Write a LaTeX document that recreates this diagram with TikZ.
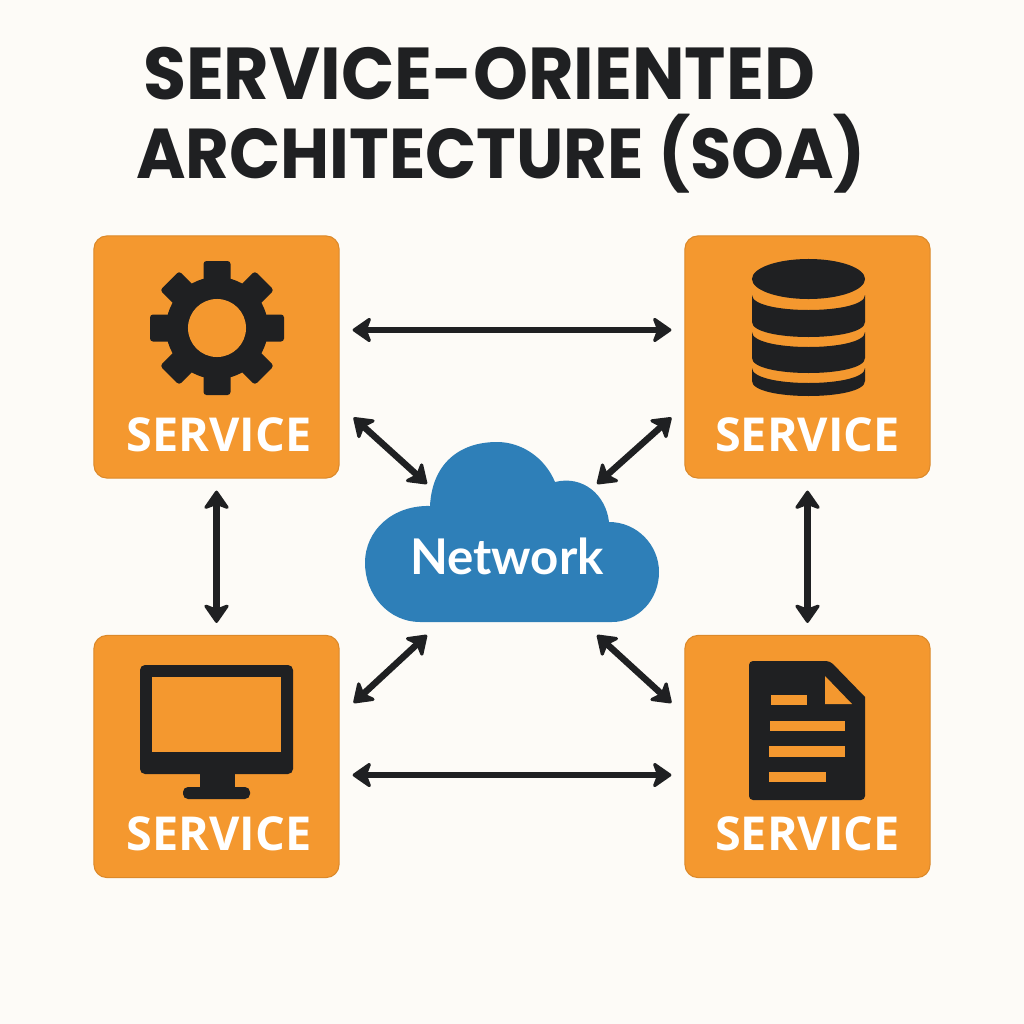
\documentclass[tikz,border=0pt]{standalone}
\usepackage{fontspec}
\usetikzlibrary{arrows.meta}
\setmainfont{Open Sans}
\newfontfamily\titlefont{Poppins}
\newfontfamily\netfont{Lato}
\definecolor{paper}{HTML}{FDFBF7}
\definecolor{boxorange}{HTML}{F4982F}
\definecolor{cloudblue}{HTML}{2E7FB8}
\definecolor{icondark}{HTML}{1F2022}
\tikzset{
  svcbox/.style={draw=boxorange!90!black,fill=boxorange,line width=0.3pt,rounded corners=0.13cm,
    minimum width=2.45cm,minimum height=2.42cm,inner sep=0pt},
  svctext/.style={text=white,font=\fontsize{13.3}{16}\selectfont\bfseries,inner sep=0pt},
  nettext/.style={text=white,font=\netfont\fontsize{14}{16}\selectfont\bfseries,inner sep=0pt},
  titletext/.style={text=icondark,font=\titlefont\selectfont\bfseries,inner sep=0pt},
  linktip/.tip={Stealth[length=0.21cm,width=0.29cm,inset=0.055cm,line width=0.9pt,round]},
  link/.style={draw=icondark,line width=0.065cm,{linktip}-{linktip}},
  icon/.style={fill=icondark},
  iconcut/.style={fill=boxorange}
}
\begin{document}
\begin{tikzpicture}[x=0.01cm,y=-0.01cm]
    \fill[paper] (0,0) rectangle (1024,1024);
    \useasboundingbox (0,0) rectangle (1024,1024);

    \node[titletext] (titletop) at (479,74) {\fontsize{19.9}{24}\selectfont\scalebox{1}[1.05]{SERVICE-ORIENTED}};
    \node[titletext] (titlebottom) at (501,154) {\fontsize{19.1}{24}\selectfont\scalebox{1}[1.05]{ARCHITECTURE (SOA)}};

    % service boxes
    \foreach \name/\x/\y/\lx in {gear/216.5/357/219,db/807.5/357/807.5,screen/216.5/756.5/219,doc/807.5/756.5/807.5}{
        \node[svcbox] (\name) at (\x,\y) {};
        \node[svctext] (\name label) at (\lx,\y+77.5) {SERVICE};
    }

    % gear
    \foreach \a in {0,45,...,315}{
        \fill[icon,rounded corners=0.03cm,rotate around={\a:(217,328)}] (203.5,261) rectangle (230.5,300);
    }
    \fill[icon] (217,328) circle (0.51cm);
    \fill[iconcut] (217,328) circle (0.29cm);

    % database
    \fill[icon] (808.5,279) ellipse (0.565cm and 0.2cm);
    \foreach \yt/\yb in {295/322,332/358,368/381}{
        \fill[icon] (752,\yt) .. controls (752,\yt+20) and (865,\yt+20) .. (865,\yt)
            -- (865,\yb) .. controls (865,\yb+20) and (752,\yb+20) .. (752,\yb) -- cycle;
    }

    % monitor
    \fill[icon,rounded corners=0.05cm] (140,665) rectangle (293,774);
    \fill[iconcut] (152,677) rectangle (281,752);
    \fill[icon] (200,770) rectangle (235,790);
    \fill[icon,rounded corners=0.05cm] (183,787) rectangle (250,799);

    % document
    \fill[icon,rounded corners=0.04cm] (749,730) -- (749,661) -- (830,661) [sharp corners] -- (865,697)
        [rounded corners=0.04cm] -- (865,800) -- (749,800) -- cycle;
    \fill[iconcut] (825,676) -- (825,704) -- (852,704) -- cycle;
    \foreach \xa/\xb/\ya/\yb in {771/807/695/705,770/845/721/731,769/845/746/757,769/826/772/782}{
        \fill[iconcut] (\xa,\ya) rectangle (\xb,\yb);
    }

    % cloud
    \fill[cloudblue] (430,506) .. controls (432,465) and (458,442) .. (497,442)
        .. controls (522,442) and (545,458) .. (555,482)
        .. controls (583,475) and (606,495) .. (609,522)
        .. controls (637,522) and (659,545) .. (659,572)
        .. controls (659,600) and (638,622) .. (612,622)
        -- (420,622) .. controls (389,622) and (365,595) .. (365,563)
        .. controls (365,530) and (393,505) .. (430,506) -- cycle;
    \node[nettext] (network) at (507,556) {Network};

    \draw[link] ([yshift=0.27cm,xshift=0.13cm]gear.east) -- ([yshift=0.27cm,xshift=-0.13cm]db.west);
    \draw[link] ([yshift=-0.185cm,xshift=0.13cm]screen.east) -- ([yshift=-0.185cm,xshift=-0.13cm]doc.west);
    \draw[link] ([yshift=-0.12cm]gear.south) -- ([yshift=0.12cm]screen.north);
    \draw[link] ([yshift=-0.12cm]db.south) -- ([yshift=0.12cm]doc.north);

    \draw[link] ([xshift=0.14cm,yshift=-0.605cm]gear.east) -- ([xshift=-0.8cm,yshift=0.72cm]network.center);
    \draw[link] ([xshift=-0.13cm,yshift=-0.605cm]db.west) -- ([xshift=0.9cm,yshift=0.72cm]network.center);
    \draw[link] ([xshift=0.14cm,yshift=0.535cm]screen.east) -- ([xshift=-0.8cm,yshift=-0.79cm]network.center);
    \draw[link] ([xshift=-0.13cm,yshift=0.535cm]doc.west) -- ([xshift=0.9cm,yshift=-0.79cm]network.center);
\end{tikzpicture}
\end{document}
